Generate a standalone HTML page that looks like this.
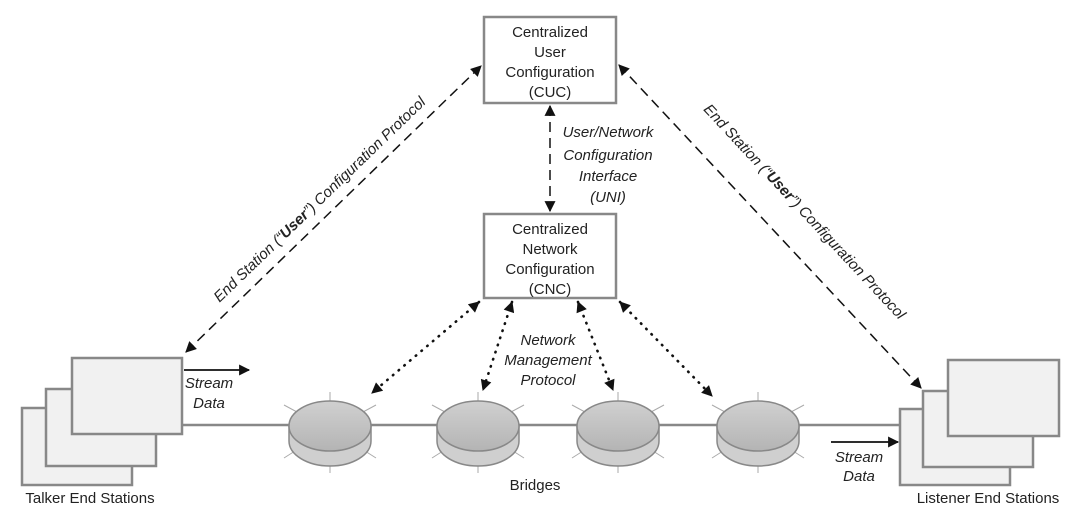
<!DOCTYPE html>
<html><head><meta charset="utf-8"><style>
html,body{margin:0;padding:0;background:#fff}
svg{display:block}
text{font-family:"Liberation Sans",sans-serif;fill:#222}
.i{font-style:italic}
</style></head><body>
<svg width="1080" height="518" viewBox="0 0 1080 518" xmlns="http://www.w3.org/2000/svg">
<defs>
<marker id="a" viewBox="0 0 10 10" refX="9" refY="5" markerWidth="13" markerHeight="11" markerUnits="userSpaceOnUse" orient="auto-start-reverse"><path d="M0,0 L10,5 L0,10 z" fill="#111"/></marker>
<linearGradient id="g" x1="0" y1="0" x2="0" y2="1"><stop offset="0" stop-color="#d0d0d0"/><stop offset="1" stop-color="#b4b4b4"/></linearGradient>
<g id="br">
<g stroke="#aaa" stroke-width="1">
<line x1="0" y1="-34" x2="0" y2="-25"/><line x1="0" y1="40" x2="0" y2="47"/>
<line x1="-33" y1="-14" x2="-46" y2="-21"/><line x1="33" y1="-14" x2="46" y2="-21"/>
<line x1="-35" y1="25" x2="-46" y2="32"/><line x1="35" y1="25" x2="46" y2="32"/>
</g>
<path d="M-41,0 L-41,15 A41,25 0 0 0 41,15 L41,0 Z" fill="#cfcfcf" stroke="#888" stroke-width="1.5"/>
<ellipse cx="0" cy="0" rx="41" ry="25" fill="url(#g)" stroke="#888" stroke-width="1.5"/>
</g>
</defs>

<line x1="183" y1="425" x2="900" y2="425" stroke="#888" stroke-width="2.5"/>

<rect x="22" y="408" width="110" height="77" fill="#f1f1f1" stroke="#888" stroke-width="2.5"/>
<rect x="46" y="389" width="110" height="77" fill="#f1f1f1" stroke="#888" stroke-width="2.5"/>
<rect x="72" y="358" width="110" height="76" fill="#f1f1f1" stroke="#888" stroke-width="2.5"/>

<rect x="900" y="409" width="110" height="76" fill="#f1f1f1" stroke="#888" stroke-width="2.5"/>
<rect x="923" y="391" width="110" height="76" fill="#f1f1f1" stroke="#888" stroke-width="2.5"/>
<rect x="948" y="360" width="111" height="76" fill="#f1f1f1" stroke="#888" stroke-width="2.5"/>

<use href="#br" x="330" y="426"/>
<use href="#br" x="478" y="426"/>
<use href="#br" x="618" y="426"/>
<use href="#br" x="758" y="426"/>

<rect x="484" y="17" width="132" height="86" fill="#fff" stroke="#888" stroke-width="2.5"/>
<rect x="484" y="214" width="132" height="84" fill="#fff" stroke="#888" stroke-width="2.5"/>
<g font-size="15" text-anchor="middle">
<text x="550" y="37">Centralized</text><text x="550" y="57">User</text><text x="550" y="77">Configuration</text><text x="550" y="97">(CUC)</text>
<text x="550" y="234">Centralized</text><text x="550" y="254">Network</text><text x="550" y="274">Configuration</text><text x="550" y="294">(CNC)</text>
</g>

<g stroke="#111" stroke-width="1.5" stroke-dasharray="10,6" fill="none">
<line x1="186" y1="352" x2="481" y2="66" marker-start="url(#a)" marker-end="url(#a)"/>
<line x1="619" y1="65" x2="921" y2="388" marker-start="url(#a)" marker-end="url(#a)"/>
<line x1="550" y1="106" x2="550" y2="211" marker-start="url(#a)" marker-end="url(#a)"/>
</g>
<g stroke="#111" stroke-width="2.6" stroke-dasharray="0.5,7" stroke-linecap="round" fill="none">
<line x1="479" y1="302" x2="372" y2="393" marker-start="url(#a)" marker-end="url(#a)"/>
<line x1="512" y1="302" x2="483" y2="390" marker-start="url(#a)" marker-end="url(#a)"/>
<line x1="578" y1="302" x2="613" y2="390" marker-start="url(#a)" marker-end="url(#a)"/>
<line x1="620" y1="302" x2="712" y2="396" marker-start="url(#a)" marker-end="url(#a)"/>
</g>

<line x1="184" y1="370" x2="249" y2="370" stroke="#111" stroke-width="1.8" marker-end="url(#a)"/>
<line x1="831" y1="442" x2="898" y2="442" stroke="#111" stroke-width="1.8" marker-end="url(#a)"/>

<g class="i" font-size="15" text-anchor="middle">
<text x="608" y="137">User/Network</text><text x="608" y="160">Configuration</text><text x="608" y="181">Interface</text><text x="608" y="202">(UNI)</text>
<text x="548" y="345">Network</text><text x="548" y="365">Management</text><text x="548" y="385">Protocol</text>
<text x="209" y="388">Stream</text><text x="209" y="408">Data</text>
<text x="859" y="462">Stream</text><text x="859" y="481">Data</text>
<text transform="translate(323,203) rotate(-44)" font-size="15">End Station (“<tspan font-weight="bold">User</tspan>”) Configuration Protocol</text>
<text transform="translate(801,215) rotate(47)" font-size="15">End Station (“<tspan font-weight="bold">User</tspan>”) Configuration Protocol</text>
</g>

<g font-size="15" text-anchor="middle">
<text x="90" y="503">Talker End Stations</text>
<text x="535" y="490">Bridges</text>
<text x="988" y="503">Listener End Stations</text>
</g>
</svg>
</body></html>
